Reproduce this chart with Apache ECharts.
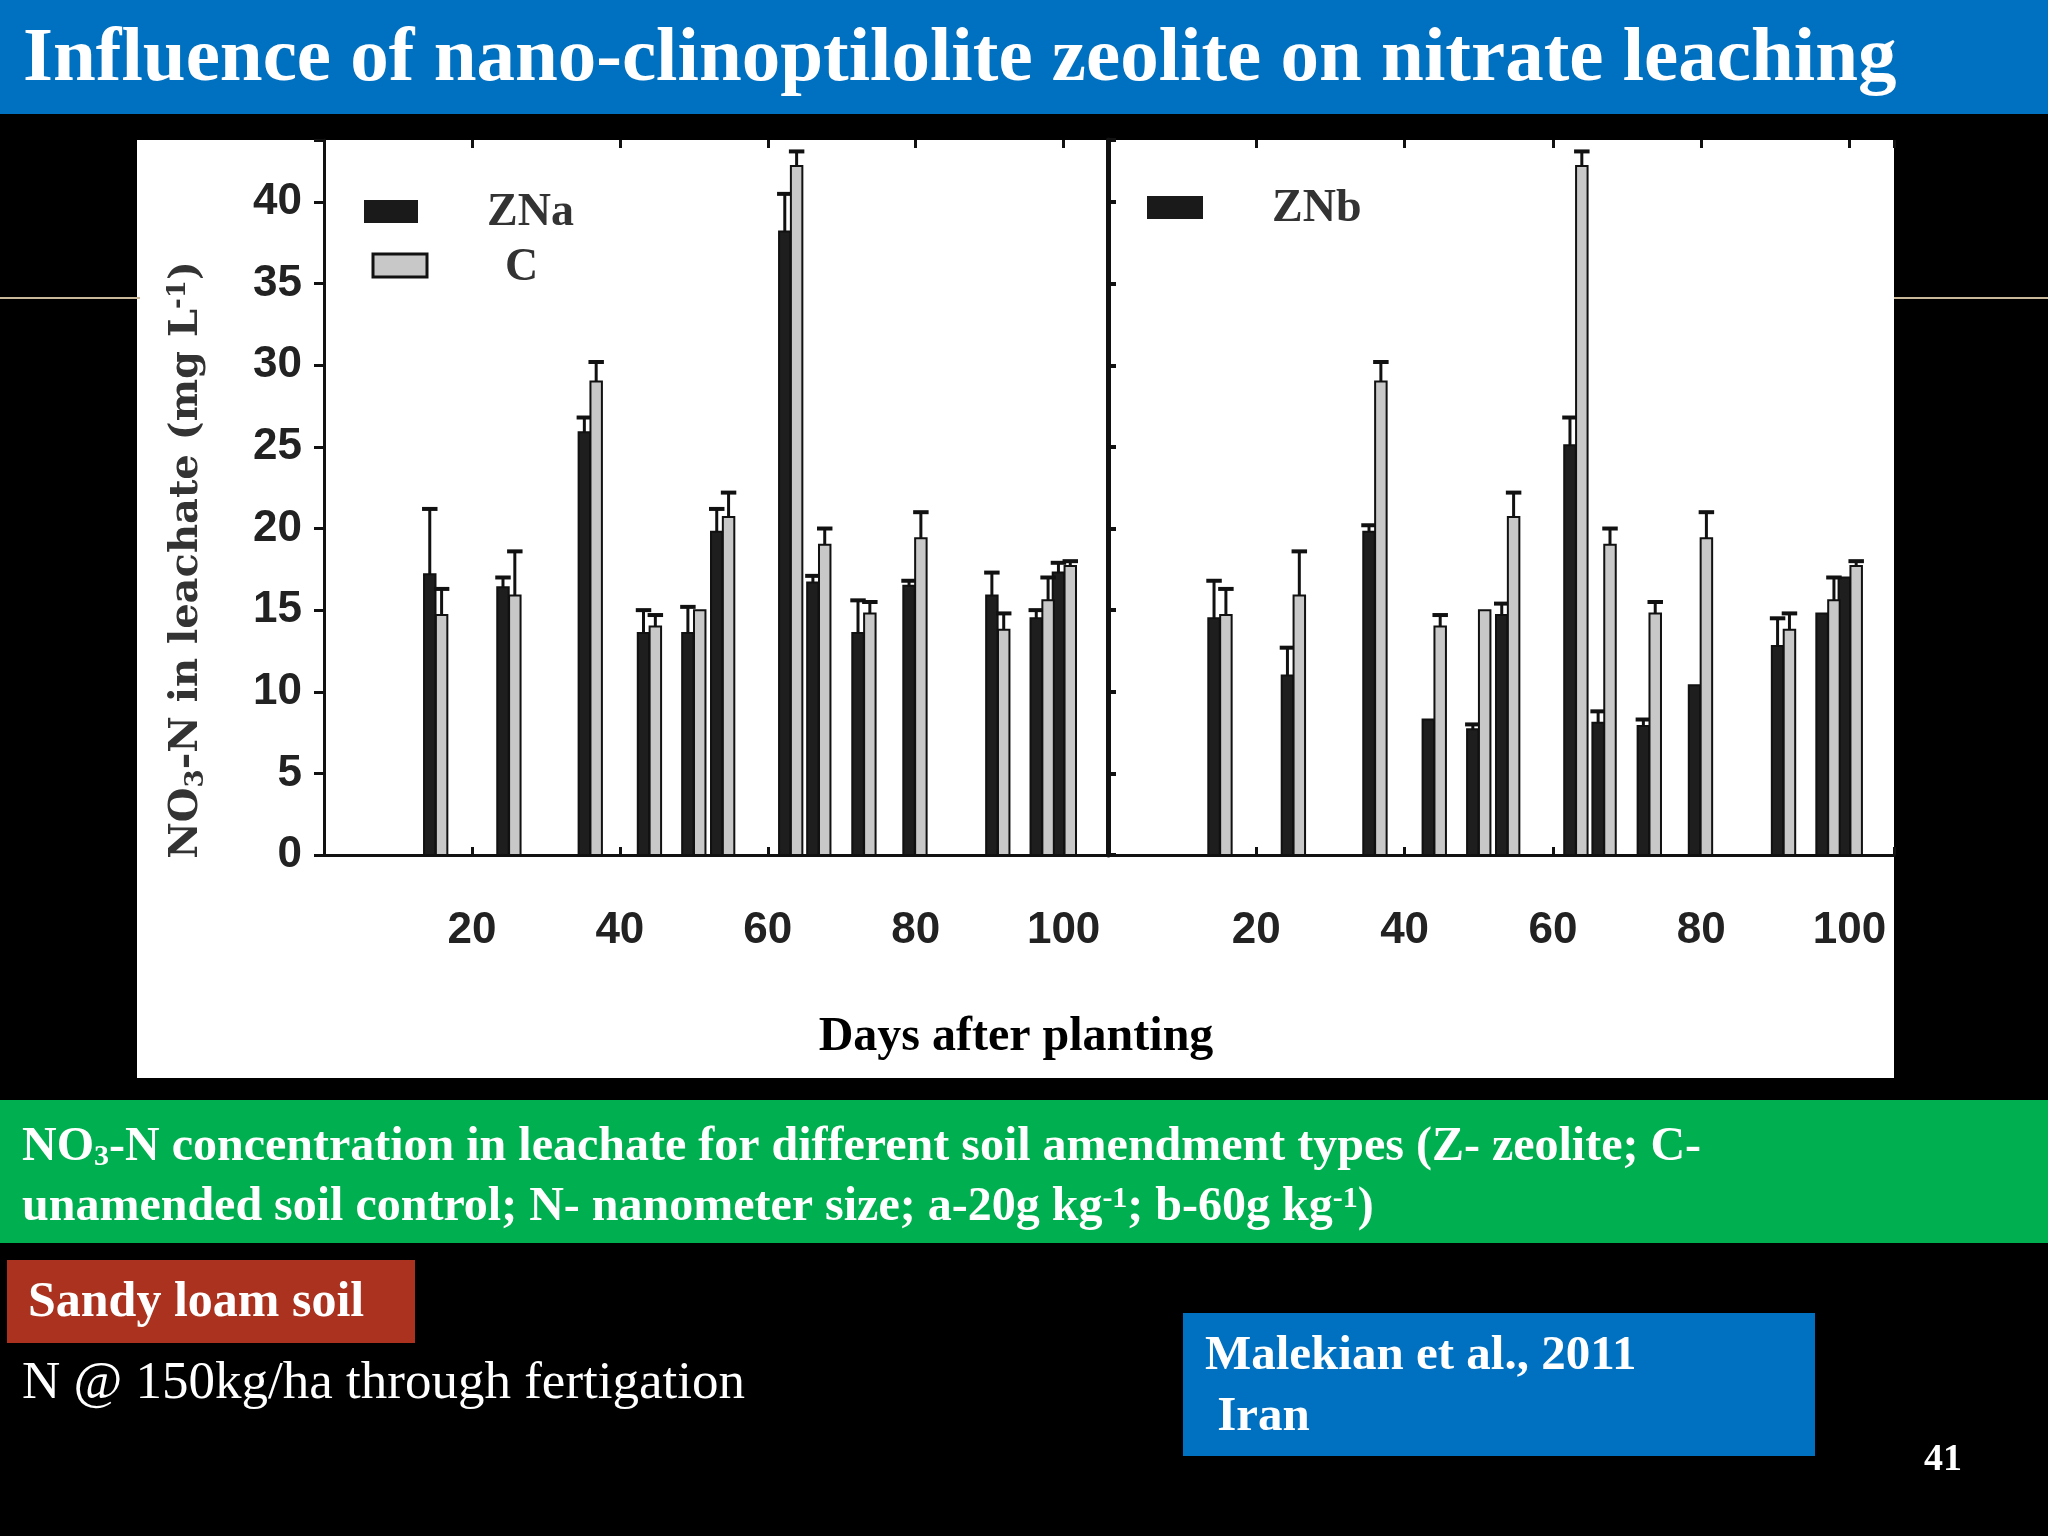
<!DOCTYPE html>
<html>
<head>
<meta charset="utf-8">
<script src="https://cdn.jsdelivr.net/npm/echarts@6/dist/echarts.min.js"></script>
<style>
html, body { margin: 0; padding: 0; background: #000; }
#chart { width: 2048px; height: 1536px; }
</style>
</head>
<body>
<div id="chart"></div>
<script>
// sampling days (group centres)
const days = [15.1, 25.0, 36.0, 44.0, 50.0, 53.9, 63.1, 66.9, 73.0, 79.9, 91.1, 97.1, 100.1];
const dayTicks = [20, 40, 60, 80, 100];

// left panel
const znaValues = [17.2, 16.4, 25.9, 13.6, 13.6, 19.8, 38.2, 16.7, 13.6, 16.5, 15.9, 14.5, 17.3];
const znaErrors = [21.2, 17.0, 26.8, 15.0, 15.2, 21.2, 40.5, 17.1, 15.6, 16.8, 17.3, 15.0, 17.9];
// control (same in both panels)
const cValues = [14.7, 15.9, 29.0, 14.0, 15.0, 20.7, 42.2, 19.0, 14.8, 19.4, 13.8, 15.6, 17.7];
const cErrors = [16.3, 18.6, 30.2, 14.7, 15.0, 22.2, 43.1, 20.0, 15.5, 21.0, 14.8, 17.0, 18.0];
// right panel
const znbValues = [14.5, 11.0, 19.8, 8.3, 7.7, 14.7, 25.1, 8.1, 7.9, 10.4, 12.8, 14.8, 17.0];
const znbErrors = [16.8, 12.7, 20.2, 8.3, 8.0, 15.4, 26.8, 8.8, 8.3, 10.4, 14.5, 14.8, 17.0];

const chart = echarts.init(document.getElementById('chart'));

const labelFont = { fontFamily: 'Liberation Sans Narrow, Arial Narrow, sans-serif', fontWeight: 'bold', fontSize: 44, color: '#222' };

function barSeries(gridIdx, values, errors, offset, fill) {
	return {
		type: 'custom',
		xAxisIndex: gridIdx * 2,
		yAxisIndex: gridIdx,
		renderItem(params, api) {
			const d = api.value(0) + offset;
			const v = api.value(1);
			const e = api.value(2);
			const w = api.size([1.55, 0])[0];
			const base = api.coord([d, 0]);
			const top = api.coord([d, v]);
			const errTop = api.coord([d, e]);
			const children = [{
				type: 'rect',
				shape: { x: base[0] - w / 2, y: top[1], width: w, height: base[1] - top[1] },
				style: { fill, stroke: '#111', lineWidth: 2 }
			}];
			if (e > v) {
				children.push({
					type: 'line',
					shape: { x1: base[0], y1: top[1], x2: base[0], y2: errTop[1] },
					style: { stroke: '#111', lineWidth: 3 }
				});
				children.push({
					type: 'line',
					shape: { x1: base[0] - w / 2 - 2, y1: errTop[1], x2: base[0] + w / 2 + 2, y2: errTop[1] },
					style: { stroke: '#111', lineWidth: 4 }
				});
			}
			return { type: 'group', children };
		},
		data: days.map((d, i) => [d, values[i], errors[i]]),
		z: 5
	};
}

function xAxes(gridIdx) {
	return [{
		gridIndex: gridIdx, type: 'value', min: 0, max: 106, interval: 20,
		axisLine: { lineStyle: { color: '#111', width: 3 } },
		axisTick: { inside: true, length: 8, lineStyle: { width: 3 } },
		axisLabel: Object.assign({ margin: 54, formatter: v => dayTicks.includes(v) ? String(v) : '' }, labelFont),
		splitLine: { show: false }
	}, {
		gridIndex: gridIdx, type: 'value', position: 'top', min: 0, max: 106, interval: 20,
		axisLine: { show: false },
		axisTick: { inside: true, length: 8, lineStyle: { width: 3, color: '#111' } },
		axisLabel: { show: false },
		splitLine: { show: false }
	}];
}

const serif = '"Liberation Serif", serif';

const option = {
	backgroundColor: '#000',
	animation: false,
	grid: [
		{ left: 324, top: 140, width: 784, height: 715 },
		{ left: 1108, top: 140, width: 786, height: 715 }
	],
	xAxis: [...xAxes(0), ...xAxes(1)],
	yAxis: [{
		gridIndex: 0, type: 'value', min: 0, max: 43.8, interval: 5,
		axisLine: { lineStyle: { color: '#111', width: 3 } },
		axisTick: { length: 10, lineStyle: { width: 3 } },
		axisLabel: Object.assign({ margin: 22, formatter: v => (v % 5 === 0 ? String(v) : '') }, labelFont),
		splitLine: { show: false }
	}, {
		gridIndex: 1, type: 'value', min: 0, max: 43.8, interval: 5,
		axisLine: { lineStyle: { color: '#111', width: 5 } },
		axisTick: { inside: true, length: 8, lineStyle: { width: 4 } },
		axisLabel: { show: false },
		splitLine: { show: false }
	}],
	graphic: [
		// title band
		{ type: 'rect', shape: { x: 0, y: 0, width: 2048, height: 114 }, style: { fill: '#0070c0' }, z: 0 },
		{ type: 'text', x: 23, y: 60, style: { text: 'Influence of nano-clinoptilolite zeolite on nitrate leaching', fill: '#fff', font: 'bold 77px ' + serif, verticalAlign: 'middle' } },
		// thin decor lines
		{ type: 'rect', shape: { x: 0, y: 297, width: 140, height: 2 }, style: { fill: '#c9b99a' } },
		{ type: 'rect', shape: { x: 1894, y: 297, width: 154, height: 2 }, style: { fill: '#c9b99a' } },
		// white figure area
		{ type: 'rect', shape: { x: 137, y: 140, width: 1757, height: 938 }, style: { fill: '#fff' }, z: -10 },
		// y axis name
		{ type: 'text', x: 187, y: 560, rotation: Math.PI / 2,
			style: { text: 'NO{s|3}-N in leachate (mg L{p|-1})', fill: '#333', font: 'bold 40px "DejaVu Serif", serif', align: 'center', verticalAlign: 'middle',
				rich: { s: { font: 'bold 26px "DejaVu Serif", serif', fill: '#333', padding: [18, 0, 0, 0] }, p: { font: 'bold 26px "DejaVu Serif", serif', fill: '#333', padding: [0, 0, 18, 0] } } } },
		// legends
		{ type: 'rect', shape: { x: 364, y: 200, width: 54, height: 23 }, style: { fill: '#1a1a1a' } },
		{ type: 'rect', shape: { x: 373, y: 254, width: 54, height: 23 }, style: { fill: '#c8c8c8', stroke: '#111', lineWidth: 3 } },
		{ type: 'text', x: 487, y: 213, style: { text: 'ZNa', fill: '#333', font: 'bold 46px ' + serif, verticalAlign: 'middle' } },
		{ type: 'text', x: 505, y: 268, style: { text: 'C', fill: '#333', font: 'bold 46px ' + serif, verticalAlign: 'middle' } },
		{ type: 'rect', shape: { x: 1147, y: 196, width: 56, height: 23 }, style: { fill: '#1a1a1a' } },
		{ type: 'text', x: 1272, y: 209, style: { text: 'ZNb', fill: '#333', font: 'bold 46px ' + serif, verticalAlign: 'middle' } },
		// x axis name
		{ type: 'text', x: 1016, y: 1038, style: { text: 'Days after planting', fill: '#000', font: 'bold 48px ' + serif, align: 'center', verticalAlign: 'middle' } },
		// green caption
		{ type: 'rect', shape: { x: 0, y: 1100, width: 2048, height: 143 }, style: { fill: '#00b050' } },
		{ type: 'text', x: 22, y: 1118, style: {
			text: 'NO{s|3}-N concentration in leachate for different soil amendment types (Z- zeolite; C-\nunamended soil control; N- nanometer size; a-20g kg{p|-1}; b-60g kg{p|-1})',
			fill: '#fff', font: 'bold 48px ' + serif, lineHeight: 60,
			rich: { s: { font: 'bold 30px ' + serif, fill: '#fff', padding: [18, 0, 0, 0] }, p: { font: 'bold 30px ' + serif, fill: '#fff', padding: [0, 0, 18, 0] } } } },
		// sandy loam
		{ type: 'rect', shape: { x: 7, y: 1260, width: 408, height: 83 }, style: { fill: '#aa321e' } },
		{ type: 'text', x: 28, y: 1303, style: { text: 'Sandy loam soil', fill: '#fff', font: 'bold 50px ' + serif, verticalAlign: 'middle' } },
		{ type: 'text', x: 22, y: 1384, style: { text: 'N @ 150kg/ha through fertigation', fill: '#fff', font: '53px ' + serif, verticalAlign: 'middle' } },
		// reference
		{ type: 'rect', shape: { x: 1183, y: 1313, width: 632, height: 143 }, style: { fill: '#0070c0' } },
		{ type: 'text', x: 1205, y: 1356, style: { text: 'Malekian et al., 2011', fill: '#fff', font: 'bold 49px ' + serif, verticalAlign: 'middle' } },
		{ type: 'text', x: 1205, y: 1417, style: { text: ' Iran', fill: '#fff', font: 'bold 49px ' + serif, verticalAlign: 'middle' } },
		{ type: 'text', x: 1943, y: 1460, style: { text: '41', fill: '#fff', font: 'bold 38px ' + serif, align: 'center', verticalAlign: 'middle' } }
	],
	series: [
		barSeries(0, znaValues, znaErrors, -0.8, '#1e1e1e'),
		barSeries(0, cValues, cErrors, 0.8, '#c8c8c8'),
		barSeries(1, znbValues, znbErrors, -0.8, '#1e1e1e'),
		barSeries(1, cValues, cErrors, 0.8, '#c8c8c8')
	]
};

chart.setOption(option);
</script>
</body>
</html>
